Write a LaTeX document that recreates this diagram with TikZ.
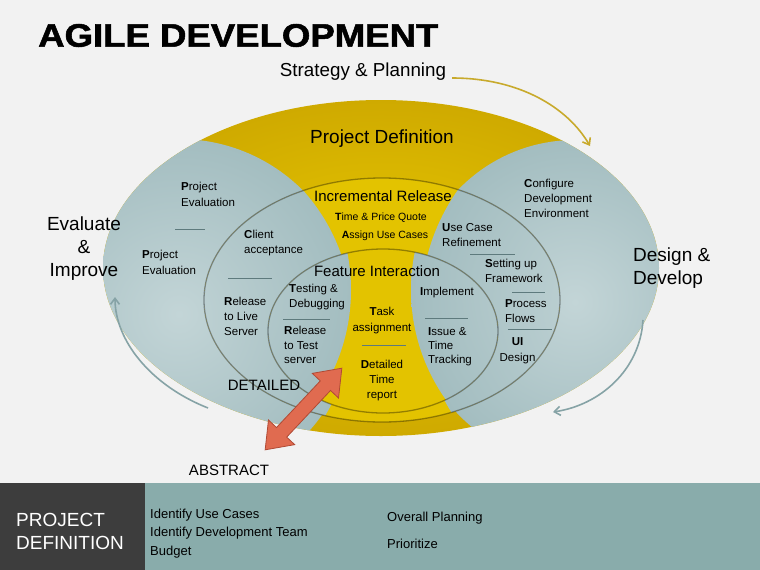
\documentclass[tikz,border=0pt]{standalone}
\usepackage{fontspec}
\usepackage{graphicx}
\setmainfont{Liberation Sans}
\newfontfamily\titlefont[FakeBold=1.5]{Liberation Sans Bold}
\usetikzlibrary{arrows.meta}
\definecolor{bg}{HTML}{F2F2F2}
\definecolor{tealIn}{HTML}{C3D5D7}
\definecolor{tealOut}{HTML}{A3BDC0}
\definecolor{yelIn}{HTML}{E6C600}
\definecolor{yelOut}{HTML}{CFAA00}
\definecolor{yelB}{HTML}{E3C300}
\definecolor{lineC}{HTML}{5E7A7D}
\definecolor{arrT}{HTML}{86A3A6}
\definecolor{arrY}{HTML}{C8AA2C}
\definecolor{redA}{HTML}{E06B50}
\definecolor{redD}{HTML}{B04A35}
\definecolor{barT}{HTML}{89ACAB}
\definecolor{barD}{HTML}{3D3D3D}
\begin{document}
\begin{tikzpicture}[x=1pt,y=-1pt,
  txt/.style={inner sep=0pt, align=left, anchor=west, font=\fontsize{11.5}{15}\selectfont},
  ctxt/.style={inner sep=0pt, align=center, font=\fontsize{11.5}{15}\selectfont},
  stxt/.style={inner sep=0pt, align=center, font=\fontsize{10.5}{15}\selectfont},
  big/.style={inner sep=0pt, font=\fontsize{19}{23}\selectfont},
  mid/.style={inner sep=0pt, font=\fontsize{15}{18}\selectfont},
  sepline/.style={draw=lineC, line width=0.8pt},
  ringline/.style={draw=black, draw opacity=0.35, line width=1.3pt},
  tealshade/.style={inner color=tealIn, outer color=tealOut},
  tarrow/.style={draw=arrT, line width=1.6pt, -{Straight Barb[length=6pt,width=9pt]}},
]
\useasboundingbox (0,0) rectangle (760,570);
\fill[bg] (0,0) rectangle (760,570);

% ---- rings ----
\shade[inner color=yelIn, outer color=yelOut] (381,268) ellipse [x radius=278, y radius=168];
\begin{scope}
  \clip (381,268) ellipse [x radius=278, y radius=168];
  \shade[tealshade] (179,314) circle [radius=175];
  \shade[tealshade] (575,302) circle [radius=162];
\end{scope}
\fill[yelB] (382,300) ellipse [x radius=178, y radius=122];
\begin{scope}
  \clip (382,300) ellipse [x radius=178, y radius=122];
  \shade[tealshade] (161,318) circle [radius=191];
  \shade[tealshade] (622,306) circle [radius=201];
\end{scope}
\fill[yelB] (383,331) ellipse [x radius=115, y radius=82];
\begin{scope}
  \clip (383,331) ellipse [x radius=115, y radius=82];
  \shade[tealshade] (161,290) circle [radius=190];
  \shade[tealshade] (601,290) circle [radius=190];
\end{scope}
\draw[ringline] (382,300) ellipse [x radius=178, y radius=122];
\draw[ringline] (383,331) ellipse [x radius=115, y radius=82];

% ---- title and side labels ----
\node[inner sep=0pt, anchor=west] (title) at (38,35.5)
  {\scalebox{1.125}[1]{\titlefont\fontsize{32.5}{32.5}\selectfont AGILE DEVELOPMENT}};
\node[inner sep=0pt, font=\fontsize{18.8}{22}\selectfont] (strat) at (363,72) {Strategy \& Planning};
\node[big] (pdef) at (382,139) {Project Definition};
\node[big, align=center] (evalimp) at (84,249) {Evaluate\\\&\\Improve};
\node[big, align=left, anchor=west] (desdev) at (633,268.5) {Design \&\\Develop};

% ---- curved arrows ----
\coordinate (sA) at (452,78);
\coordinate (sB) at (590,146);
\draw[draw=arrY, line width=1.6pt, -{Straight Barb[length=6pt,width=9pt]}]
  (sA) .. controls (520,78) and (568,108) .. (sB);
\coordinate (dA) at (643,320);
\coordinate (dB) at (553,412);
\draw[tarrow] (dA) .. controls (640,370) and (600,405) .. (dB);
\coordinate (eA) at (208,408);
\coordinate (eB) at (115,297);
\draw[tarrow] (eA) .. controls (150,385) and (115,340) .. (eB);

% ---- left teal texts ----
\node[txt, font=\fontsize{11.5}{16}\selectfont] (pe1) at (181,194) {\textbf{P}roject\\Evaluation};
\draw[sepline] (175,229) -- (205,229);
\node[txt, font=\fontsize{11.5}{16}\selectfont] (pe2) at (142,262) {\textbf{P}roject\\Evaluation};
\node[txt] (client) at (244,243.5) {\textbf{C}lient\\acceptance};
\draw[sepline] (228,278) -- (272,278);
\node[txt] (rlive) at (224,316) {\textbf{R}elease\\to Live\\Server};
\node[txt] (testing) at (289,297.5) {\textbf{T}esting \&\\Debugging};
\draw[sepline] (283,319) -- (330,319);
\node[txt, font=\fontsize{11.5}{14.5}\selectfont] (rtest) at (284,345) {\textbf{R}elease\\to Test\\server};

% ---- centre texts ----
\node[mid] (incr) at (383,196) {Incremental Release};
\node[stxt] (tpq) at (381,218) {\textbf{T}ime \& Price Quote};
\node[stxt] (auc) at (385,236) {\textbf{A}ssign Use Cases};
\node[mid] (feat) at (377,271) {Feature Interaction};
\node[ctxt, font=\fontsize{11.5}{16}\selectfont] (task) at (382,321) {\textbf{T}ask\\assignment};
\draw[sepline] (362,345) -- (406,345);
\node[ctxt] (dtr) at (382,381) {\textbf{D}etailed\\Time\\report};

% ---- right teal texts ----
\node[txt] (conf) at (524,198.5) {\textbf{C}onfigure\\Development\\Environment};
\node[txt] (ucr) at (442,235.5) {\textbf{U}se Case\\Refinement};
\draw[sepline] (470,254) -- (515,254);
\node[txt] (setup) at (485,271) {\textbf{S}etting up\\Framework};
\draw[sepline] (512,292) -- (545,292);
\node[txt] (pflow) at (505,311.5) {\textbf{P}rocess\\Flows};
\draw[sepline] (508,329) -- (552,329);
\node[ctxt, font=\fontsize{11.5}{16}\selectfont] (uid) at (517.5,351) {\textbf{UI}\\Design};
\node[txt] (impl) at (420,293) {\textbf{I}mplement};
\draw[sepline] (425,318) -- (468,318);
\node[txt, font=\fontsize{11.5}{14}\selectfont] (issue) at (428,347) {\textbf{I}ssue \&\\Time\\Tracking};

% ---- red double arrow ----
\begin{scope}[shift={(303.5,409)}, rotate=46.8]
  \filldraw[fill=redA, draw=redD, line width=0.8pt]
    (56,0) -- (32,18) -- (32,7) -- (-32,7) -- (-32,18) -- (-56,0)
    -- (-32,-18) -- (-32,-7) -- (32,-7) -- (32,-18) -- cycle;
\end{scope}
\node[inner sep=0pt, font=\fontsize{15}{18}\selectfont] (detailed) at (264,385) {DETAILED};
\node[inner sep=0pt, font=\fontsize{15}{18}\selectfont] (abstract) at (229,470) {ABSTRACT};

% ---- bottom bar ----
\fill[barT] (145,483) rectangle (760,570);
\fill[barD] (0,483) rectangle (145,570);
\node[inner sep=0pt, anchor=west, align=left, text=white, font=\fontsize{19}{23}\selectfont] (pdbar) at (16,531.5) {PROJECT\\DEFINITION};
\node[inner sep=0pt, anchor=west, align=left, font=\fontsize{13}{18.5}\selectfont] (items1) at (150,533.5)
  {Identify Use Cases\\Identify Development Team\\Budget};
\node[inner sep=0pt, anchor=west, align=left, font=\fontsize{13}{27}\selectfont] (items2) at (387,530.5)
  {Overall Planning\\Prioritize};
\end{tikzpicture}
\end{document}
